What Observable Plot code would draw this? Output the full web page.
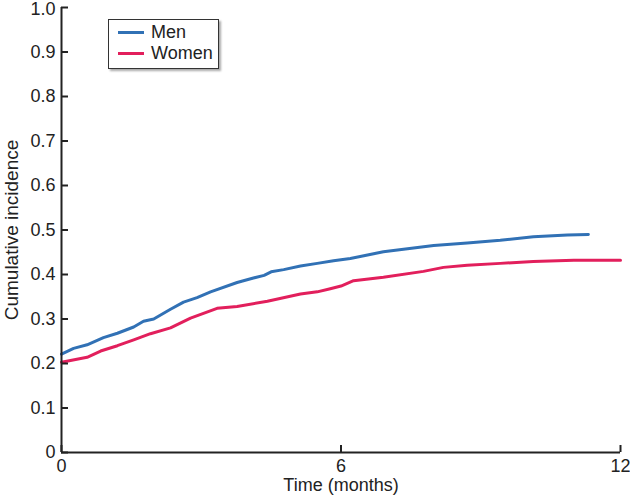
<!DOCTYPE html>
<html>
<head>
<meta charset="utf-8">
<script src="https://cdn.jsdelivr.net/npm/d3@7"></script>
<script src="https://cdn.jsdelivr.net/npm/@observablehq/plot@0.6"></script>
<style>
  html, body { margin: 0; padding: 0; background: #fff; }
  #wrap { position: relative; width: 630px; height: 499px; font-family: "Liberation Sans", Arial, sans-serif; }
  #legend { position: absolute; left: 108px; top: 19px; width: 109px; height: 48px; border: 1.5px solid #333; background: #fff; box-shadow: 2px 2px 2px #aaa; font-size: 18px; color: #222; }
  .item { position: absolute; left: 9px; display: flex; align-items: center; }
  .swatch { width: 26px; height: 3px; margin-right: 7px; }
</style>
</head>
<body>
<div id="wrap"></div>
<script>
const menTime  = [0, 0.26, 0.55, 0.9, 1.2, 1.55, 1.76, 1.98, 2.34, 2.62, 2.91, 3.2, 3.77, 4.12, 4.35, 4.5, 4.77, 5.13, 5.49, 5.84, 6.2, 6.91, 7.99, 8.71, 9.42, 10.13, 10.86, 11.31];
const menValue = [0.221, 0.234, 0.242, 0.258, 0.268, 0.282, 0.295, 0.300, 0.322, 0.338, 0.348, 0.361, 0.382, 0.392, 0.398, 0.406, 0.411, 0.419, 0.425, 0.431, 0.436, 0.451, 0.465, 0.471, 0.477, 0.485, 0.489, 0.490];
const womenTime  = [0, 0.55, 0.84, 1.2, 1.55, 1.91, 2.34, 2.77, 3.34, 3.77, 4.42, 5.13, 5.49, 5.77, 6.0, 6.27, 6.91, 7.77, 8.2, 8.71, 9.42, 10.13, 11, 12];
const womenValue = [0.203, 0.214, 0.228, 0.240, 0.253, 0.267, 0.280, 0.302, 0.324, 0.328, 0.340, 0.356, 0.361, 0.368, 0.374, 0.386, 0.394, 0.407, 0.416, 0.421, 0.425, 0.429, 0.432, 0.432];
const seriesNames = ["Men", "Women"];
const seriesColors = ["#3171b5", "#e21f5c"];
const xTicks = [0, 6, 12];
const yTicks = [0, 0.1, 0.2, 0.3, 0.4, 0.5, 0.6, 0.7, 0.8, 0.9, 1.0];
const xLabel = "Time (months)";
const yLabel = "Cumulative incidence";

const men = menTime.map((t, i) => ({t, v: menValue[i]}));
const women = womenTime.map((t, i) => ({t, v: womenValue[i]}));
const fmtY = d => d === 0 ? "0" : d.toFixed(1);

const chart = Plot.plot({
  width: 630,
  height: 499,
  marginLeft: 61,
  marginRight: 10,
  marginTop: 7,
  marginBottom: 47,
  style: {fontFamily: "Liberation Sans, Arial, sans-serif", fontSize: "18px", color: "#222", background: "#fff", overflow: "visible"},
  x: {domain: [0, 12]},
  y: {domain: [0, 1]},
  marks: [
    Plot.line(men, {x: "t", y: "v", stroke: seriesColors[0], strokeWidth: 3}),
    Plot.line(women, {x: "t", y: "v", stroke: seriesColors[1], strokeWidth: 3}),
    Plot.axisY({ticks: yTicks, tickSize: -7, strokeWidth: 2, stroke: "#222", tickFormat: () => "", label: null}),
    Plot.axisY({ticks: yTicks.filter(d => d < 1), tickSize: 0, tickPadding: 6, tickFormat: fmtY, label: null, fill: "#222"}),
    Plot.axisY({ticks: yTicks.filter(d => d >= 1), tickSize: 0, tickPadding: 6, dy: 2, tickFormat: fmtY, label: null, fill: "#222"}),
    Plot.axisX({ticks: xTicks, tickSize: -7, strokeWidth: 2, stroke: "#222", tickFormat: () => "", label: null}),
    Plot.axisX({ticks: xTicks, tickSize: 0, tickPadding: 7, tickFormat: d => String(d), label: null, fill: "#222"}),
    Plot.ruleX([0], {stroke: "#222", strokeWidth: 2}),
    Plot.ruleY([0], {stroke: "#222", strokeWidth: 2}),
    Plot.text([yLabel], {frameAnchor: "left", dx: -50, rotate: -90, textAnchor: "middle", fill: "#222", fontSize: 19}),
    Plot.text([xLabel], {frameAnchor: "bottom", dy: 38, textAnchor: "middle", fill: "#222", fontSize: 18})
  ]
});
const wrap = document.getElementById("wrap");
wrap.appendChild(chart);

const legend = document.createElement("div");
legend.id = "legend";
seriesNames.forEach((name, i) => {
  const item = document.createElement("div");
  item.className = "item";
  item.style.top = (i === 0 ? 2 : 23) + "px";
  const sw = document.createElement("span");
  sw.className = "swatch";
  sw.style.background = seriesColors[i];
  const lb = document.createElement("span");
  lb.textContent = name;
  item.appendChild(sw);
  item.appendChild(lb);
  legend.appendChild(item);
});
wrap.appendChild(legend);
</script>
</body>
</html>
